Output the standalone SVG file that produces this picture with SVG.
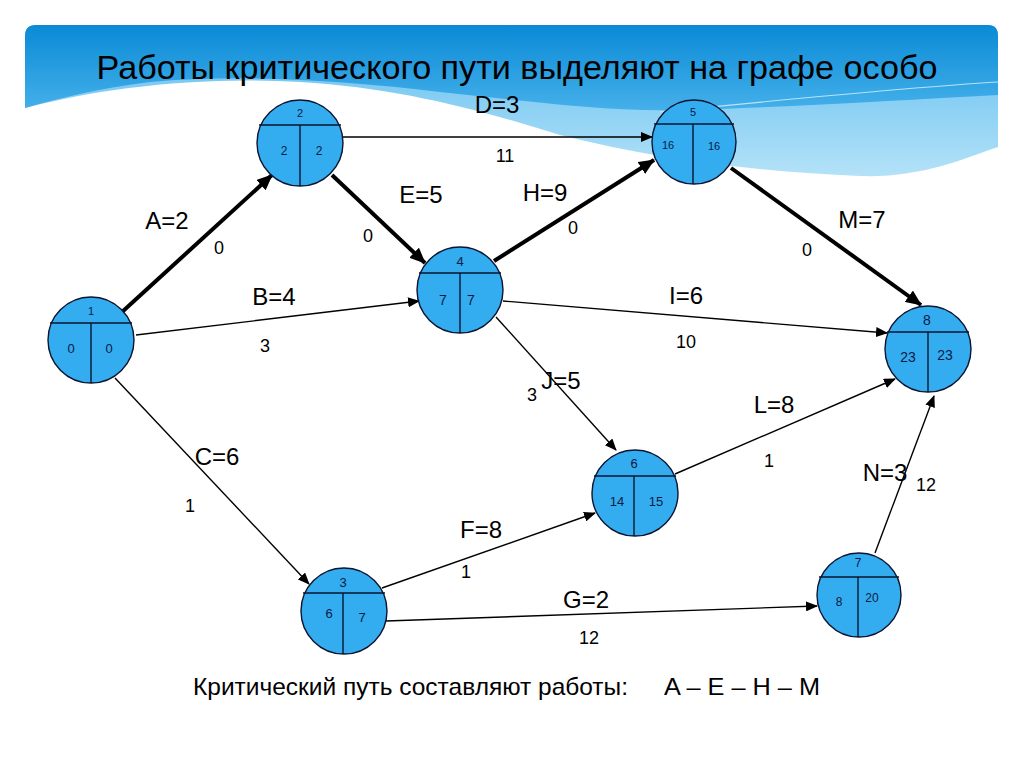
<svg xmlns="http://www.w3.org/2000/svg" width="1024" height="768" viewBox="0 0 1024 768">
<defs>
<linearGradient id="gDark" x1="0" y1="0" x2="0" y2="1">
<stop offset="0" stop-color="#0a8ad6"/>
<stop offset="1" stop-color="#45b0ea"/>
</linearGradient>
<linearGradient id="gLight" x1="0" y1="0" x2="0" y2="1">
<stop offset="0" stop-color="#5cbcef"/>
<stop offset="1" stop-color="#b4e2f8"/>
</linearGradient>
<marker id="arrThin" markerUnits="userSpaceOnUse" markerWidth="12" markerHeight="10" refX="11" refY="5" orient="auto">
<path d="M0,0 L12,5 L0,10 Z" fill="#000"/>
</marker>
<marker id="arrThick" markerUnits="userSpaceOnUse" markerWidth="16" markerHeight="14" refX="15" refY="7" orient="auto">
<path d="M0,0 L16,7 L0,14 Z" fill="#000"/>
</marker>
<style>
.node circle{fill:#33adf0;stroke:#0b1530;stroke-width:1.4}
.node line{stroke:#0b1530;stroke-width:1.4}
.num{font-family:"Liberation Sans",Arial,sans-serif;fill:#0c1a44;text-anchor:middle}
.thin{stroke:#000;stroke-width:1.4;fill:none;marker-end:url(#arrThin)}
.thick{stroke:#000;stroke-width:4;fill:none;marker-end:url(#arrThick)}
.lbl{font-family:"Liberation Sans",Arial,sans-serif;font-size:24px;fill:#000;text-anchor:middle}
.val{font-family:"Liberation Sans",Arial,sans-serif;font-size:18px;fill:#000;text-anchor:middle}
</style>
</defs>
<rect width="1024" height="768" fill="#fff"/>
<g id="header">
<path d="M25,36 Q25,25 36,25 H988 Q998,25 998,36 V147 C960,160 920,178 860,176 C760,172 660,160 560,135 C480,110 400,88 300,82 C200,76 100,88 25,108 Z" fill="url(#gLight)"/>
<path d="M25,36 Q25,25 36,25 H988 Q998,25 998,36 V95 C900,100 780,108 680,110 C600,112 520,100 440,92 C340,80 240,74 150,82 C100,88 60,98 25,108 Z" fill="url(#gDark)"/>
<path d="M660,112 C780,100 900,88 998,82" stroke="#d8f0fc" stroke-width="1.2" fill="none" opacity="0.8"/>
<text x="517" y="79" font-family="Liberation Sans, Arial, sans-serif" font-size="34" text-anchor="middle" textLength="841" lengthAdjust="spacingAndGlyphs" fill="#000">Работы критического пути выделяют на графе особо</text>
</g>
<g id="connectors">
<line id="A" class="thick" x1="122" y1="312" x2="272" y2="175"/>
<line id="B" class="thin" x1="136" y1="335" x2="419" y2="301"/>
<line id="C" class="thin" x1="115" y1="378" x2="309" y2="584"/>
<line id="D" class="thin" x1="343" y1="137" x2="652" y2="137"/>
<line id="E" class="thick" x1="332" y1="175" x2="425" y2="263"/>
<line id="H" class="thick" x1="494" y1="261" x2="654" y2="160"/>
<line id="M" class="thick" x1="731" y1="168" x2="921" y2="305"/>
<line id="I" class="thin" x1="503" y1="301" x2="887" y2="333"/>
<line id="J" class="thin" x1="496" y1="317" x2="616" y2="450"/>
<line id="L" class="thin" x1="675" y1="474" x2="895" y2="379"/>
<line id="N" class="thin" x1="875" y1="553" x2="934" y2="396"/>
<line id="F" class="thin" x1="382" y1="588" x2="595" y2="513"/>
<line id="G" class="thin" x1="386" y1="621" x2="817" y2="606"/>
<text class="lbl" x="497" y="113">D=3</text><text class="val" x="505" y="162">11</text>
<text class="lbl" x="167" y="229">A=2</text><text class="val" x="219" y="254">0</text>
<text class="lbl" x="421" y="203">E=5</text><text class="val" x="368" y="242">0</text>
<text class="lbl" x="545" y="201">H=9</text><text class="val" x="573" y="234">0</text>
<text class="lbl" x="862" y="228">M=7</text><text class="val" x="807" y="256">0</text>
<text class="lbl" x="274" y="305">B=4</text><text class="val" x="265" y="352">3</text>
<text class="lbl" x="686" y="304">I=6</text><text class="val" x="686" y="348">10</text>
<text class="lbl" x="561" y="389">J=5</text><text class="val" x="532" y="401">3</text>
<text class="lbl" x="217" y="465">C=6</text><text class="val" x="190" y="512">1</text>
<text class="lbl" x="774" y="413">L=8</text><text class="val" x="769" y="467">1</text>
<text class="lbl" x="885" y="481">N=3</text><text class="val" x="926" y="491">12</text>
<text class="lbl" x="481" y="538">F=8</text><text class="val" x="466" y="578">1</text>
<text class="lbl" x="586" y="608">G=2</text><text class="val" x="589" y="644">12</text>
</g>
<g id="node1" class="node">
<circle cx="91" cy="340" r="43"/>
<line x1="50" y1="323" x2="132" y2="323"/><line x1="91" y1="323" x2="91" y2="383"/>
<text class="num" x="91" y="315" font-size="11">1</text>
<text class="num" x="71" y="353" font-size="13">0</text><text class="num" x="109" y="353" font-size="13">0</text>
</g>
<g id="node2" class="node">
<circle cx="300" cy="143" r="43"/>
<line x1="259" y1="125" x2="341" y2="125"/><line x1="300" y1="125" x2="300" y2="186"/>
<text class="num" x="300" y="117" font-size="11">2</text>
<text class="num" x="284" y="155" font-size="12">2</text><text class="num" x="319" y="155" font-size="12">2</text>
</g>
<g id="node3" class="node">
<circle cx="344" cy="611" r="43"/>
<line x1="303" y1="593" x2="385" y2="593"/><line x1="343" y1="593" x2="343" y2="654"/>
<text class="num" x="343" y="587" font-size="13">3</text>
<text class="num" x="329" y="618" font-size="13">6</text><text class="num" x="362" y="622" font-size="13">7</text>
</g>
<g id="node4" class="node">
<circle cx="460" cy="290" r="43"/>
<line x1="419" y1="273" x2="501" y2="273"/><line x1="460" y1="273" x2="460" y2="333"/>
<text class="num" x="460" y="266" font-size="13">4</text>
<text class="num" x="443" y="305" font-size="14">7</text><text class="num" x="471" y="305" font-size="14">7</text>
</g>
<g id="node5" class="node">
<circle cx="694" cy="142" r="42"/>
<line x1="654" y1="124" x2="734" y2="124"/><line x1="693" y1="124" x2="693" y2="184"/>
<text class="num" x="693" y="116" font-size="11">5</text>
<text class="num" x="668" y="149" font-size="11">16</text><text class="num" x="714" y="150" font-size="11">16</text>
</g>
<g id="node6" class="node">
<circle cx="635" cy="493" r="43"/>
<line x1="594" y1="476" x2="676" y2="476"/><line x1="634" y1="476" x2="634" y2="536"/>
<text class="num" x="634" y="468" font-size="13">6</text>
<text class="num" x="617" y="506" font-size="13">14</text><text class="num" x="656" y="506" font-size="13">15</text>
</g>
<g id="node7" class="node">
<circle cx="859" cy="595" r="42"/>
<line x1="819" y1="577" x2="899" y2="577"/><line x1="858" y1="577" x2="858" y2="637"/>
<text class="num" x="858" y="567" font-size="12">7</text>
<text class="num" x="839" y="606" font-size="12">8</text><text class="num" x="872" y="602" font-size="12">20</text>
</g>
<g id="node8" class="node">
<circle cx="928" cy="349" r="43"/>
<line x1="887" y1="332" x2="969" y2="332"/><line x1="928" y1="332" x2="928" y2="392"/>
<text class="num" x="927" y="325" font-size="14">8</text>
<text class="num" x="908" y="362" font-size="14">23</text><text class="num" x="945" y="360" font-size="14">23</text>
</g>
<g id="footer">
<text x="193" y="695" font-family="Liberation Sans, Arial, sans-serif" font-size="24" textLength="435" lengthAdjust="spacingAndGlyphs" fill="#000">Критический путь составляют работы:</text>
<text x="664" y="695" font-family="Liberation Sans, Arial, sans-serif" font-size="24" textLength="156" lengthAdjust="spacingAndGlyphs" fill="#000">A – E – H – M</text>
</g>
</svg>
